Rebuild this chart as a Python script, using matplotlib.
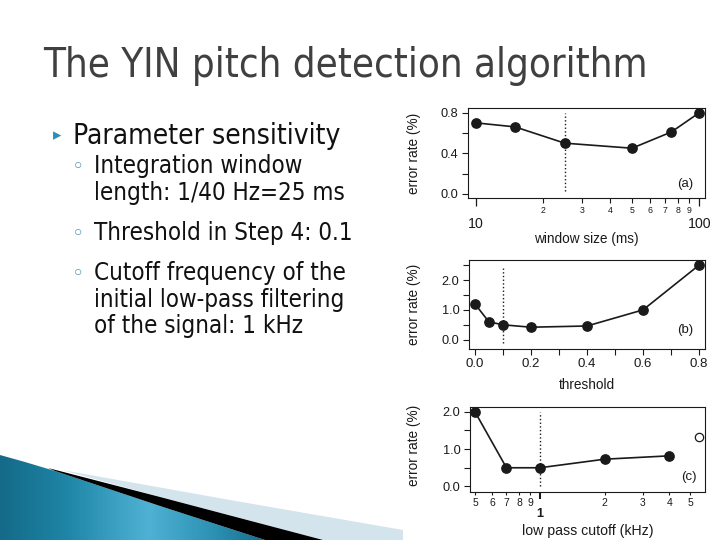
import numpy as np
import matplotlib
matplotlib.use("Agg")
import matplotlib.pyplot as plt
from matplotlib import font_manager
from matplotlib.colors import LinearSegmentedColormap
from matplotlib.patches import Polygon
from matplotlib.ticker import FixedLocator, FixedFormatter, MultipleLocator

# panel (a): integration window size
window_ms = [10, 15, 25, 50, 75, 100]
window_err = [0.70, 0.66, 0.50, 0.45, 0.61, 0.80]
window_chosen = 25
window_major = [10, 100]
window_major_labels = ["10", "100"]
window_minor = [20, 30, 40, 50, 60, 70, 80, 90]
window_minor_labels = ["2", "3", "4", "5", "6", "7", "8", "9"]

# panel (b): threshold
threshold = [0.0, 0.05, 0.1, 0.2, 0.4, 0.6, 0.8]
threshold_err = [1.2, 0.6, 0.5, 0.42, 0.46, 1.0, 2.5]
threshold_chosen = 0.1
threshold_ticks = [0.0, 0.2, 0.4, 0.6, 0.8]

# panel (c): low pass cutoff
cutoff_khz = [0.5, 0.7, 1.0, 2.0, 4.0]
cutoff_err = [2.0, 0.5, 0.5, 0.73, 0.82]
no_filter_khz = [5.5]
no_filter_err = [1.33]
cutoff_chosen = 1.0
cutoff_major = [1]
cutoff_major_labels = ["1"]
cutoff_minor = [0.5, 0.6, 0.7, 0.8, 0.9, 2, 3, 4, 5]
cutoff_minor_labels = ["5", "6", "7", "8", "9", "2", "3", "4", "5"]

# slide text
title = "The YIN pitch detection algorithm"
bullet = "Parameter sensitivity"
sub_bullets = [
    ["Integration window", "length: 1/40 Hz=25 ms"],
    ["Threshold in Step 4: 0.1"],
    ["Cutoff frequency of the", "initial low-pass filtering", "of the signal: 1 kHz"],
]

PLOT_FONT = ["Liberation Sans", "DejaVu Sans"]
INK = "#1a1a1a"
LABEL_SIZE = 9.8

# pick a narrow face for the slide text if one is installed
faces = {(f.name, f.stretch) for f in font_manager.fontManager.ttflist}
if ("DejaVu Sans", "condensed") in faces:
    slide_font = dict(family="DejaVu Sans", fontstretch="condensed")
elif any(n == "Liberation Sans Narrow" for n, _ in faces):
    slide_font = dict(family="Liberation Sans Narrow")
else:
    slide_font = dict(family="DejaVu Sans")

fig = plt.figure(figsize=(7.2, 5.4), dpi=100)
fig.patch.set_facecolor("white")

# background axes in pixel units (y pointing down) for the slide layer
bg = fig.add_axes([0, 0, 1, 1], zorder=0)
bg.set_xlim(0, 720)
bg.set_ylim(540, 0)
bg.axis("off")

renderer = fig.canvas.get_renderer()


def fit_size(s, target_px, **kw):
    t = bg.text(0, 0, s, fontsize=20, **kw)
    w = t.get_window_extent(renderer=renderer).width
    t.remove()
    return 20 * target_px / w


# bottom-left swoosh
teal_shape = [(0, 455), (25, 462), (55, 471), (160, 506), (265, 540), (0, 540)]
black_shape = [(48, 468), (160, 497), (323, 540), (265, 540), (160, 506), (55, 471)]
light_shape = [(62, 470), (230, 500), (403, 530), (403, 540), (323, 540), (160, 497)]
bg.add_patch(Polygon(light_shape, closed=True, fc="#d3e4ec", ec="none"))
teal_patch = Polygon(teal_shape, closed=True, fc="none", ec="none")
bg.add_patch(teal_patch)
grad_cmap = LinearSegmentedColormap.from_list(
    "swoosh",
    [(0.0, "#146a88"), (0.25, "#1f86a7"), (0.55, "#4fb2d4"), (0.8, "#2b90b2"), (1.0, "#136c8b")],
)
gx = np.linspace(0, 1, 300)
grad = np.tile(gx, (20, 1))
img = bg.imshow(grad, cmap=grad_cmap, extent=(0, 270, 540, 450), aspect="auto", zorder=1)
img.set_clip_path(teal_patch)
bg.add_patch(Polygon(black_shape, closed=True, fc="black", ec="none", zorder=2))
bg.set_xlim(0, 720)
bg.set_ylim(540, 0)

# title and bullets
title_size = fit_size(title, 605, **slide_font)
bg.text(43, 77, title, fontsize=title_size, color="#404040", ha="left", va="baseline", **slide_font)

bullet_size = fit_size(bullet, 267, **slide_font)
bg.text(73, 144, bullet, fontsize=bullet_size, color="#111111", ha="left", va="baseline", **slide_font)
bg.text(57, 135, "\u25B8", fontsize=12, color="#2b8fbd", ha="center", va="center", family="DejaVu Sans")

sub_size = fit_size(sub_bullets[1][0], 258, **slide_font)
first_baselines = [173.5, 240, 280]
line_step = 26.5
for lines, y0 in zip(sub_bullets, first_baselines):
    bg.text(78, y0 - 6, "\u25E6", fontsize=15, color="#4a93b0", ha="center", va="center", family="DejaVu Sans")
    for k, line in enumerate(lines):
        bg.text(94, y0 + k * line_step, line, fontsize=sub_size, color="#111111",
                ha="left", va="baseline", **slide_font)


def px_rect(left, right, top, bottom):
    return [left / 720, (540 - bottom) / 540, (right - left) / 720, (bottom - top) / 540]


def base_style(ax, ylim, yticks, yminor_step):
    ax.set_ylim(*ylim)
    ax.set_yticks(yticks)
    ax.yaxis.set_minor_locator(MultipleLocator(yminor_step))
    ax.set_yticklabels([f"{v:.1f}" for v in yticks], family=PLOT_FONT)
    ax.tick_params(axis="y", which="both", direction="out", length=4.5, width=0.8,
                   labelsize=9.2, pad=2.5, colors=INK)
    for sp in ax.spines.values():
        sp.set_linewidth(0.8)
        sp.set_color(INK)
    ax.set_ylabel("error rate (%)", fontsize=LABEL_SIZE, family=PLOT_FONT, color=INK)
    ax.set_facecolor("white")


def draw_series(ax, x, y):
    ax.plot(x, y, "-o", color=INK, lw=1.2, ms=6.7, zorder=3, clip_on=False)


def tag(ax, s, x, y):
    ax.text(x, y, s, transform=ax.transAxes, fontsize=9.5, family=PLOT_FONT,
            color=INK, ha="center", va="center")


# (a)
ax1 = fig.add_axes(px_rect(468, 705, 108, 198), zorder=3)
ax1.set_xscale("log")
ax1.set_xlim(9.24, 106)
base_style(ax1, (-0.04, 0.846), [0.0, 0.4, 0.8], 0.2)
ax1.xaxis.set_major_locator(FixedLocator(window_major))
ax1.xaxis.set_major_formatter(FixedFormatter(window_major_labels))
ax1.xaxis.set_minor_locator(FixedLocator(window_minor))
ax1.xaxis.set_minor_formatter(FixedFormatter(window_minor_labels))
ax1.tick_params(axis="x", which="major", direction="out", length=6, width=0.9,
                labelsize=10.2, pad=7.5, colors=INK)
ax1.tick_params(axis="x", which="minor", direction="out", length=3.6, width=0.8,
                labelsize=6.3, pad=2, colors=INK)
ax1.vlines(window_chosen, 0.03, 0.80, colors=INK, linestyles=":", lw=1.0)
draw_series(ax1, window_ms, window_err)
ax1.set_xlabel("window size (ms)", fontsize=LABEL_SIZE, family=PLOT_FONT, color=INK)
ax1.xaxis.set_label_coords(0.5, -0.45)
ax1.xaxis.label.set_va("center")
ax1.yaxis.set_label_coords(-0.20, 0.5)
tag(ax1, "(a)", 0.916, 0.156)

# (b)
ax2 = fig.add_axes(px_rect(469, 705, 260, 349), zorder=3)
ax2.set_xlim(-0.021, 0.821)
base_style(ax2, (-0.31, 2.67), [0.0, 1.0, 2.0], 0.5)
ax2.set_xticks(threshold_ticks)
ax2.set_xticklabels([f"{v:.1f}" for v in threshold_ticks], family=PLOT_FONT)
ax2.xaxis.set_minor_locator(MultipleLocator(0.1))
ax2.tick_params(axis="x", which="both", direction="out", length=4, width=0.8,
                labelsize=9.5, pad=2.5, colors=INK)
ax2.vlines(threshold_chosen, -0.11, 2.44, colors=INK, linestyles=":", lw=1.0)
draw_series(ax2, threshold, threshold_err)
ax2.set_xlabel("threshold", fontsize=LABEL_SIZE, family=PLOT_FONT, color=INK)
ax2.xaxis.set_label_coords(0.5, -0.40)
ax2.xaxis.label.set_va("center")
ax2.yaxis.set_label_coords(-0.205, 0.5)
tag(ax2, "(b)", 0.915, 0.213)

# (c)
ax3 = fig.add_axes(px_rect(470, 705, 407, 492), zorder=3)
ax3.set_xscale("log")
ax3.set_xlim(0.474, 5.85)
base_style(ax3, (-0.15, 2.13), [0.0, 1.0, 2.0], 0.5)
ax3.xaxis.set_major_locator(FixedLocator(cutoff_major))
ax3.xaxis.set_major_formatter(FixedFormatter(cutoff_major_labels))
ax3.xaxis.set_minor_locator(FixedLocator(cutoff_minor))
ax3.xaxis.set_minor_formatter(FixedFormatter(cutoff_minor_labels))
ax3.tick_params(axis="x", which="major", direction="out", length=5.2, width=1.5,
                labelsize=9, pad=6, colors=INK)
ax3.tick_params(axis="x", which="minor", direction="out", length=2.5, width=0.8,
                labelsize=7.5, pad=1.5, colors=INK)
for t in ax3.xaxis.get_major_ticks():
    t.label1.set_fontweight("bold")
ax3.vlines(cutoff_chosen, 0.0, 2.0, colors=INK, linestyles=":", lw=1.0)
draw_series(ax3, cutoff_khz, cutoff_err)
ax3.plot(no_filter_khz, no_filter_err, "o", mfc="white", mec=INK, mew=0.9, ms=6, zorder=3)
ax3.set_xlabel("low pass cutoff (kHz)", fontsize=10.2, family=PLOT_FONT, color=INK)
ax3.xaxis.set_label_coords(0.5, -0.46)
ax3.xaxis.label.set_va("center")
ax3.yaxis.set_label_coords(-0.21, 0.55)
tag(ax3, "(c)", 0.932, 0.176)

for ax in (ax1, ax2, ax3):
    for lbl in ax.get_xticklabels(which="both"):
        lbl.set_family(PLOT_FONT)

fig.savefig("out.png", dpi=100)
